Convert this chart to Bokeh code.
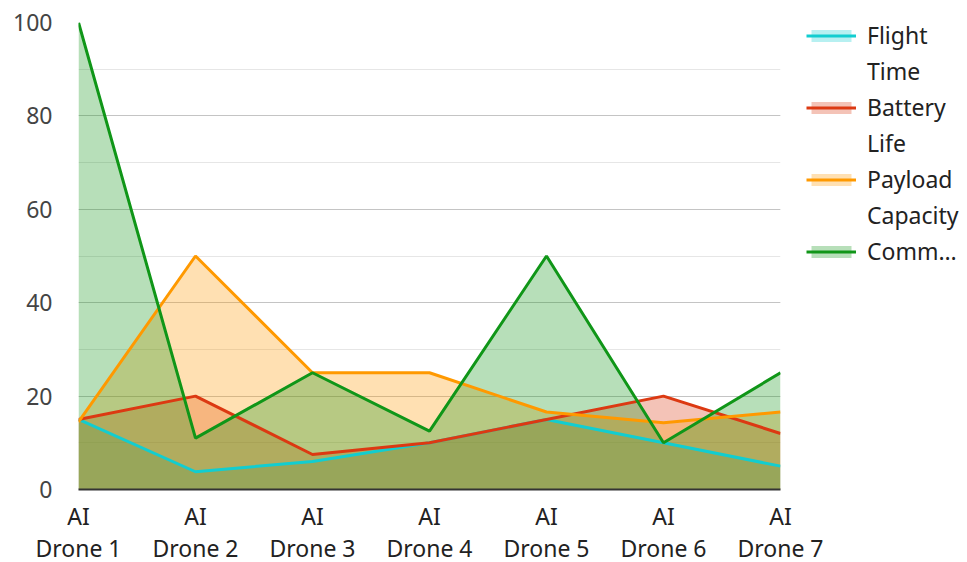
from bokeh.plotting import figure
from bokeh.models import Range1d, FixedTicker, Legend, LegendItem, SingleIntervalTicker
from bokeh.embed import file_html
from bokeh.resources import INLINE

drones = ["AI\nDrone 1", "AI\nDrone 2", "AI\nDrone 3", "AI\nDrone 4", "AI\nDrone 5", "AI\nDrone 6", "AI\nDrone 7"]
flight_time = [15, 3.8, 6, 10, 15, 10, 5]
battery_life = [15, 20, 7.5, 10, 15, 20, 12]
payload_capacity = [14.5, 50, 25, 25, 16.6, 14.3, 16.6]
comm_range = [100, 11, 25, 12.5, 50, 10, 25]

# legend labels, already wrapped as in the chart (one list entry per line)
series_names = [["Flight", "Time"], ["Battery", "Life"], ["Payload", "Capacity"], ["Comm…"]]
series_values = [flight_time, battery_life, payload_capacity, comm_range]
colors = ["#12cdd0", "#dc3912", "#ff9900", "#109618"]

FONT = "Noto Sans"
x = list(range(len(drones)))

p = figure(output_backend="svg", toolbar_location=None,
           x_range=Range1d(0, len(drones) - 1), y_range=Range1d(0, 100),
           frame_width=702, frame_height=467, min_border_left=78, min_border_top=22,
           min_border_right=0, min_border_bottom=64)
p.outline_line_color = None
p.background_fill_color = "white"

fills = []
for vals, c in zip(series_values, colors):
    fills.append(p.varea(x=x, y1=[0] * len(x), y2=vals, fill_color=c, fill_alpha=0.3))
lines = []
for vals, c in zip(series_values, colors):
    lines.append(p.line(x=x, y=vals, line_color=c, line_width=3))

items = []
for name_lines, a, l in zip(series_names, fills, lines):
    items.append(LegendItem(label=name_lines[0], renderers=[a, l]))
    for extra in name_lines[1:]:
        items.append(LegendItem(label=extra, renderers=[]))

legend = Legend(items=items, location=(26, 222), padding=0, margin=0,
                border_line_color=None, background_fill_alpha=0,
                glyph_width=50, glyph_height=15, label_standoff=11,
                label_height=32, spacing=4, label_text_font=FONT, label_text_font_size="23px",
                label_text_color="#222222", label_text_line_height=1.13)
p.add_layout(legend, "right")

p.xaxis.ticker = FixedTicker(ticks=x)
p.xaxis.major_label_overrides = {i: d for i, d in zip(x, drones)}
p.xaxis.major_label_text_font = FONT
p.xaxis.major_label_text_font_size = "23px"
p.xaxis.major_label_text_color = "#222222"
p.xaxis.major_label_text_line_height = 1.0
p.xaxis.axis_line_color = "#333333"
p.xaxis.axis_line_width = 2
p.xaxis.major_tick_line_color = None
p.xaxis.minor_tick_line_color = None
p.xaxis.major_label_standoff = 4

p.yaxis.ticker = SingleIntervalTicker(interval=20, num_minor_ticks=2)
p.yaxis.major_label_text_font = FONT
p.yaxis.major_label_text_font_size = "23px"
p.yaxis.major_label_text_color = "#444444"
p.yaxis.axis_line_color = None
p.yaxis.major_tick_line_color = None
p.yaxis.minor_tick_line_color = None
p.yaxis.major_label_standoff = 20

p.xgrid.grid_line_color = None
p.ygrid.grid_line_color = "#c4c4c4"
p.ygrid.grid_line_width = 1
p.ygrid.minor_grid_line_color = "#e6e6e6"
p.ygrid.minor_grid_line_width = 1

open("out.html", "w").write(file_html(p, INLINE))
